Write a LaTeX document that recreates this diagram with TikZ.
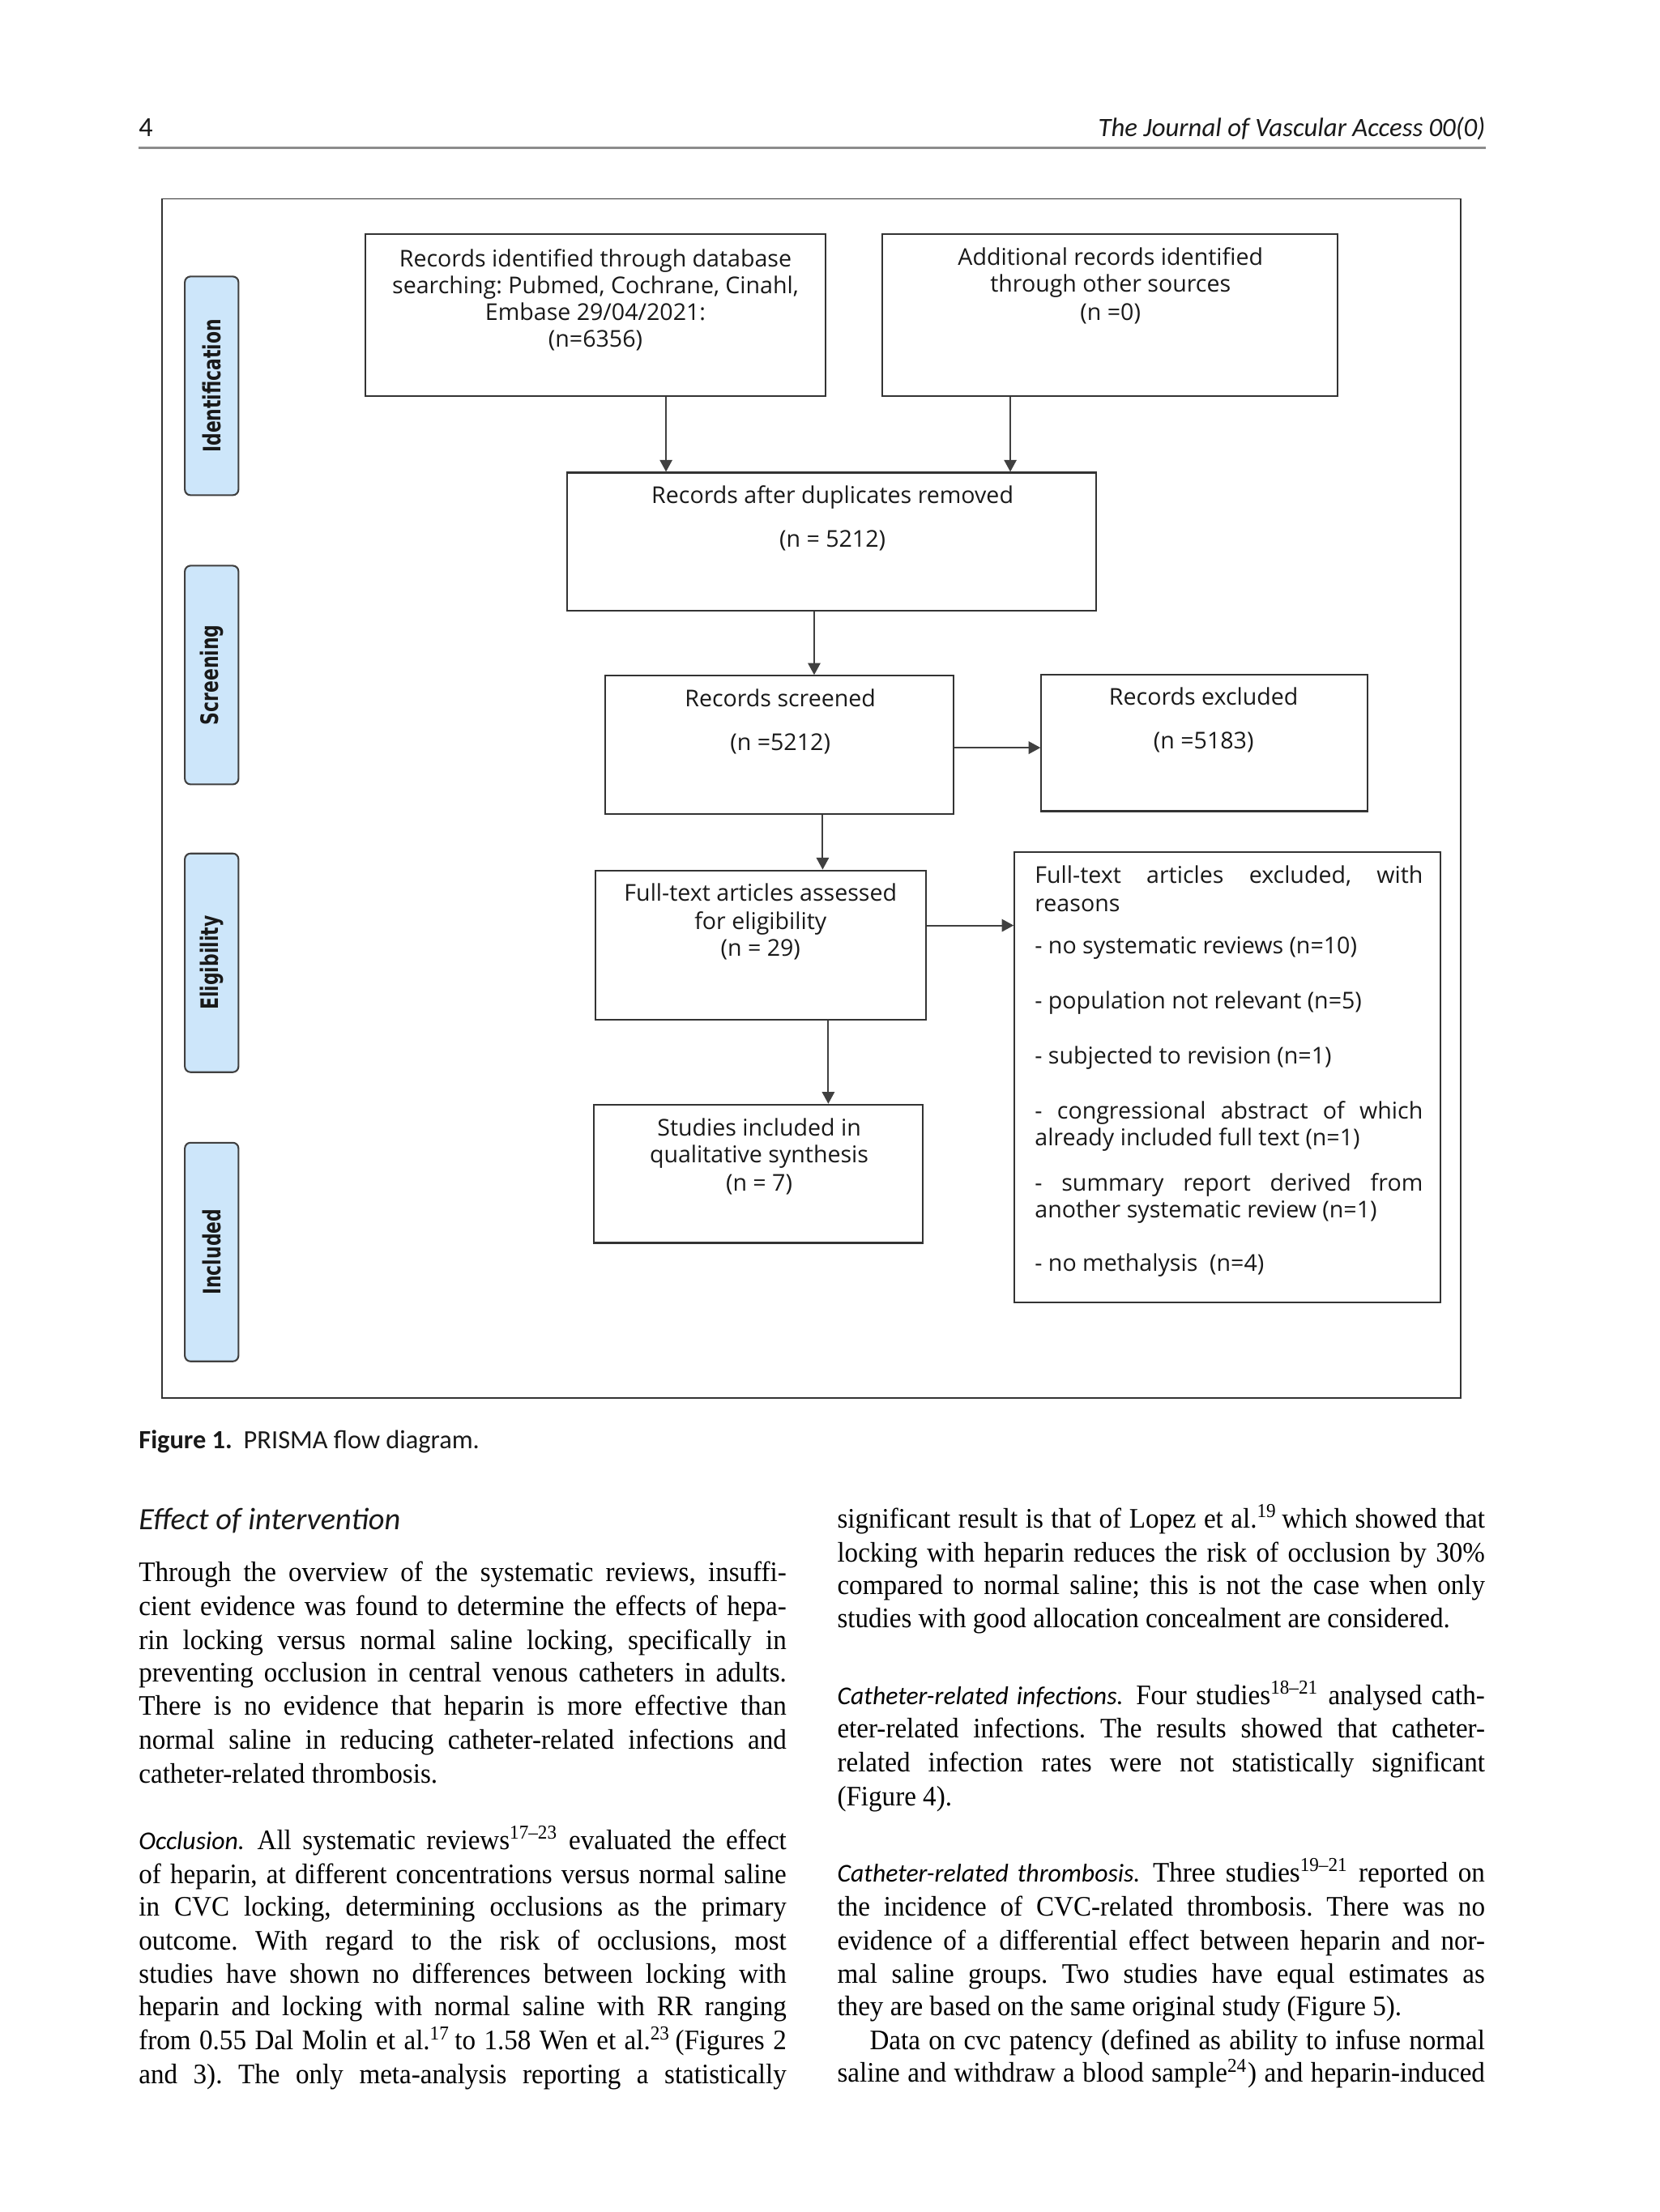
\documentclass[tikz,border=0pt]{standalone}
\usepackage{fontspec}
\setmainfont{Liberation Serif}[FakeStretch=0.95]
\newfontfamily\gill{Carlito}
\newfontfamily\diag{Open Sans}
\newfontfamily\sidef{DejaVu Sans}[FakeStretch=0.74]
\usetikzlibrary{arrows.meta,fit}
\definecolor{sideblue}{RGB}{205,230,250}
\frenchspacing
\tikzset{
  box/.style={draw=black!80, line width=0.6pt, inner sep=0pt},
  sidebox/.style={draw=black!75, line width=0.6pt, fill=sideblue, rounded corners=2pt, inner sep=0pt},
  sidetext/.style={rotate=90, inner sep=0pt, font=\sidef\bfseries\fontsize{8.5}{10}\selectfont, text=black!90},
  arr/.style={draw=black!75, line width=0.6pt, -{Triangle[width=4.4pt,length=4.2pt]}},
  dt/.style={anchor=base, inner sep=0pt, yshift=-1pt, font=\diag\fontsize{8.2}{9.5}\selectfont, text=black!90},
  dtl/.style={dt, anchor=base west},
  bl/.style={anchor=base west, inner sep=0pt, yshift=-1pt, font=\fontsize{10}{11.9}\selectfont\frenchspacing, text=black},
  sans/.style={anchor=base west, inner sep=0pt, text=black!90},
}
\newcommand{\jl}[1]{\makebox[229.5pt][s]{#1}}
\newcommand{\jb}[1]{\makebox[137.5pt][s]{#1}}
\newcommand{\subh}[1]{{\gill\itshape\fontsize{9.1}{11}\selectfont #1}\hspace{4.5pt}}
\begin{document}
\begin{tikzpicture}[x=0.5pt,y=-0.5pt]
\useasboundingbox (0,0) rectangle (1176,1568);
\fill[white] (0,0) rectangle (1176,1568);

% header
\node[sans, font=\gill\fontsize{9.8}{11}\selectfont] (pnum) at (98,97) {4};
\node[anchor=base east, inner sep=0pt, text=black!90, font=\gill\itshape\fontsize{9.4}{11}\selectfont] (jname) at (1053,97) {The Journal of Vascular Access 00(0)};
\draw[black!45, line width=0.8pt] (98,105) -- (1053,105);

% figure frame
\node[draw=black!80, line width=0.5pt, inner sep=0pt, fit={(115,141) (1035,991)}] (frame) {};

% side labels
\node[sidebox, fit={(131,196) (169,351)}] (s1) {};
\node[sidebox, fit={(131,401) (169,556)}] (s2) {};
\node[sidebox, fit={(131,605) (169,760)}] (s3) {};
\node[sidebox, fit={(131,810) (169,965)}] (s4) {};
\node[sidetext] (s1t) at (s1.center) {Identification};
\node[sidetext] (s2t) at (s2.center) {Screening};
\node[sidetext] (s3t) at (s3.center) {Eligibility};
\node[sidetext] (s4t) at (s4.center) {Included};

% boxes
\node[box, fit={(259,166) (585,281)}] (b1) {};
\node[box, fit={(625,166) (948,281)}] (b2) {};
\node[box, fit={(402,335) (777,433)}] (b3) {};
\node[box, fit={(429,479) (676,577)}] (b4) {};
\node[box, fit={(738,478) (969,575)}] (b5) {};
\node[box, fit={(422,617) (656,723)}] (b6) {};
\node[box, fit={(719,604) (1021,923)}] (b7) {};
\node[box, fit={(421,783) (654,881)}] (b8) {};

% box texts
\node[dt] (b1a) at (422,187) {Records identified through database};
\node[dt] (b1b) at (422,206) {searching: Pubmed, Cochrane, Cinahl,};
\node[dt] (b1c) at (422,225) {Embase 29/04/2021:};
\node[dt] (b1d) at (422,244) {(n=6356)};

\node[dt] (b2a) at (787,186) {Additional records identified};
\node[dt] (b2b) at (787,205) {through other sources};
\node[dt] (b2c) at (787,225) {(n =0)};

\node[dt] (b3a) at (590,355) {Records after duplicates removed};
\node[dt] (b3b) at (590,386) {(n = 5212)};

\node[dt] (b4a) at (553,499) {Records screened};
\node[dt] (b4b) at (553,530) {(n =5212)};

\node[dt] (b5a) at (853,498) {Records excluded};
\node[dt] (b5b) at (853,529) {(n =5183)};

\node[dt] (b6a) at (539,637) {Full-text articles assessed};
\node[dt] (b6b) at (539,657) {for eligibility};
\node[dt] (b6c) at (539,676) {(n = 29)};

\node[dtl] (b7a) at (733,624) {\jb{Full-text articles excluded, with}};
\node[dtl] (b7b) at (733,644) {reasons};
\node[dtl] (b7c) at (733,674) {- no systematic reviews (n=10)};
\node[dtl] (b7d) at (733,713) {- population not relevant (n=5)};
\node[dtl] (b7e) at (733,752) {- subjected to revision (n=1)};
\node[dtl] (b7f) at (733,791) {\jb{- congressional abstract of which}};
\node[dtl] (b7g) at (733,810) {already included full text (n=1)};
\node[dtl] (b7h) at (733,842) {\jb{- summary report derived from}};
\node[dtl] (b7i) at (733,861) {another systematic review (n=1)};
\node[dtl] (b7j) at (733,899) {- no methalysis\ \ (n=4)};

\node[dt] (b8a) at (538,803) {Studies included in};
\node[dt] (b8b) at (538,822) {qualitative synthesis};
\node[dt] (b8c) at (538,842) {(n = 7)};

% connectors
\coordinate (ax1) at (472,0);
\coordinate (ax2) at (716,0);
\coordinate (ax3) at (577,0);
\coordinate (ax4) at (583,0);
\coordinate (ax5) at (587,0);
\coordinate (ay1) at (0,530);
\coordinate (ay2) at (0,656);
\draw[arr] (b1.south -| ax1) -- (b3.north -| ax1);
\draw[arr] (b2.south -| ax2) -- (b3.north -| ax2);
\draw[arr] (b3.south -| ax3) -- (b4.north -| ax3);
\draw[arr] (b4.south -| ax4) -- (b6.north -| ax4);
\draw[arr] (b4.east |- ay1) -- (b5.west |- ay1);
\draw[arr] (b6.east |- ay2) -- (b7.west |- ay2);
\draw[arr] (b6.south -| ax5) -- (b8.north -| ax5);

% caption
\node[sans, font=\gill\fontsize{9.3}{11}\selectfont] (cap) at (98,1027) {\textbf{Figure 1.}\hspace{4pt}PRISMA flow diagram.};

% left column
\node[sans, font=\gill\itshape\fontsize{11}{13}\selectfont] (sec) at (98,1084) {Effect of intervention};
\node[bl] (L1) at (98,1119) {\jl{Through the overview of the systematic reviews, insuffi-}};
\node[bl] (L2) at (98,1143) {\jl{cient evidence was found to determine the effects of hepa-}};
\node[bl] (L3) at (98,1167) {\jl{rin locking versus normal saline locking, specifically in}};
\node[bl] (L4) at (98,1190) {\jl{preventing occlusion in central venous catheters in adults.}};
\node[bl] (L5) at (98,1214) {\jl{There is no evidence that heparin is more effective than}};
\node[bl] (L6) at (98,1238) {\jl{normal saline in reducing catheter-related infections and}};
\node[bl] (L7) at (98,1262) {catheter-related thrombosis.};

\node[bl] (L8) at (98,1309) {\jl{\subh{Occlusion.}All systematic reviews\textsuperscript{17–23} evaluated the effect}};
\node[bl] (L9) at (98,1333) {\jl{of heparin, at different concentrations versus normal saline}};
\node[bl] (L10) at (98,1356) {\jl{in CVC locking, determining occlusions as the primary}};
\node[bl] (L11) at (98,1380) {\jl{outcome. With regard to the risk of occlusions, most}};
\node[bl] (L12) at (98,1404) {\jl{studies have shown no differences between locking with}};
\node[bl] (L13) at (98,1427) {\jl{heparin and locking with normal saline with RR ranging}};
\node[bl] (L14) at (98,1451) {\jl{from 0.55 Dal Molin et al.\textsuperscript{17}\,to 1.58 Wen et al.\textsuperscript{23}\,(Figures 2}};
\node[bl] (L15) at (98,1475) {\jl{and 3). The only meta-analysis reporting a statistically}};

% right column
\node[bl] (R1) at (593,1081) {\jl{significant result is that of Lopez et al.\textsuperscript{19}\,which showed that}};
\node[bl] (R2) at (593,1105) {\jl{locking with heparin reduces the risk of occlusion by 30\%}};
\node[bl] (R3) at (593,1128) {\jl{compared to normal saline; this is not the case when only}};
\node[bl] (R4) at (593,1152) {studies with good allocation concealment are considered.};

\node[bl] (R5) at (593,1206) {\jl{\subh{Catheter-related infections.}Four studies\textsuperscript{18–21} analysed cath-}};
\node[bl] (R6) at (593,1230) {\jl{eter-related infections. The results showed that catheter-}};
\node[bl] (R7) at (593,1254) {\jl{related infection rates were not statistically significant}};
\node[bl] (R8) at (593,1278) {(Figure 4).};

\node[bl] (R9) at (593,1332) {\jl{\subh{Catheter-related thrombosis.}Three studies\textsuperscript{19–21} reported on}};
\node[bl] (R10) at (593,1356) {\jl{the incidence of CVC-related thrombosis. There was no}};
\node[bl] (R11) at (593,1380) {\jl{evidence of a differential effect between heparin and nor-}};
\node[bl] (R12) at (593,1404) {\jl{mal saline groups. Two studies have equal estimates as}};
\node[bl] (R13) at (593,1427) {they are based on the same original study (Figure 5).};
\node[bl] (R14) at (593,1451) {\jl{\hspace{11.5pt}Data on cvc patency (defined as ability to infuse normal}};
\node[bl] (R15) at (593,1474) {\jl{saline and withdraw a blood sample\textsuperscript{24}) and heparin-induced}};
\end{tikzpicture}
\end{document}
